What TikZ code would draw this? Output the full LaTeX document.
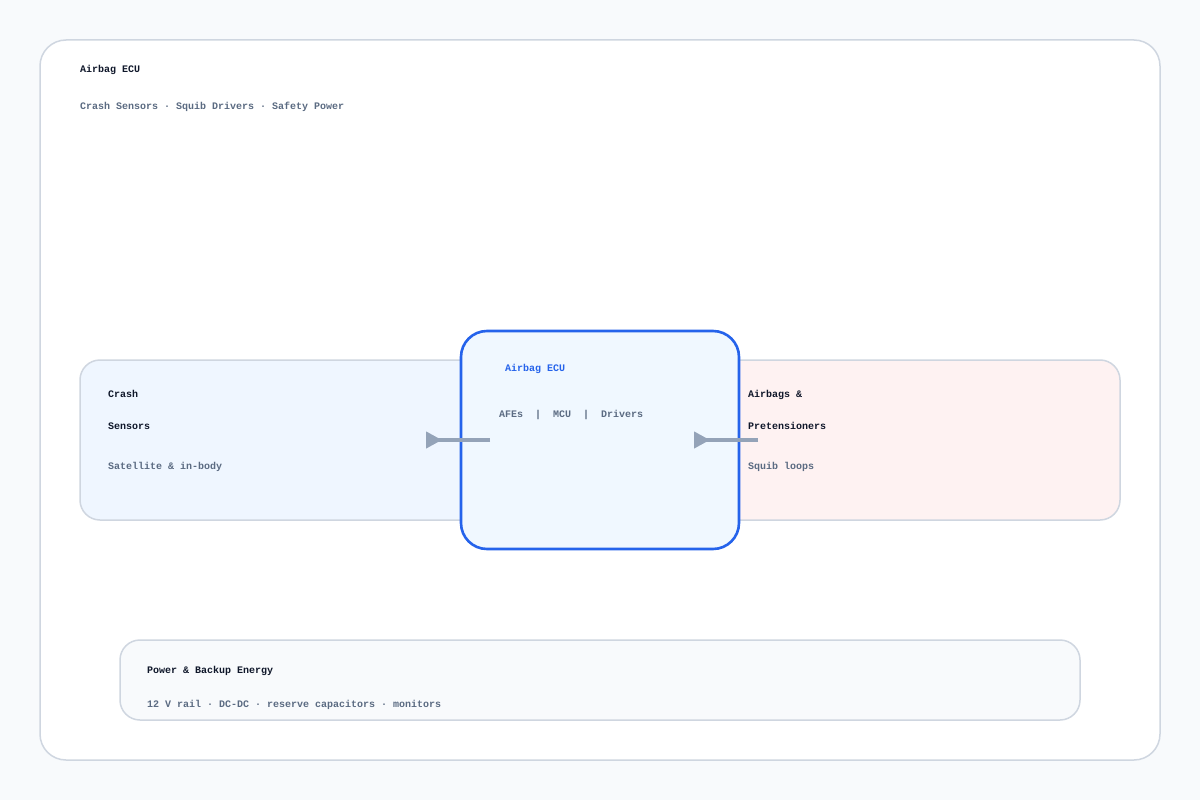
\documentclass[tikz,border=0pt]{standalone}
\usepackage{fontspec}
\setmonofont{Liberation Mono}
\usepackage{tikz}
\usetikzlibrary{arrows.meta,positioning}
\usepackage{xcolor}
\definecolor{page}{HTML}{F8FAFC}
\definecolor{rim}{HTML}{CFD6E0}
\definecolor{ink}{HTML}{0F172A}
\definecolor{slate}{HTML}{5B6B82}
\definecolor{wire}{HTML}{94A3B8}
\definecolor{ecublue}{HTML}{2563EB}
\definecolor{sensfill}{HTML}{EFF6FF}
\definecolor{bagfill}{HTML}{FEF2F2}
\definecolor{ecufill}{HTML}{F0F8FF}
\tikzset{panel/.style={draw=rim,line width=1.5pt,rounded corners=26pt,fill=white},sidebox/.style={draw=rim,line width=1.5pt,rounded corners=20pt},ecubox/.style={draw=ecublue,fill=ecufill,line width=2.6pt,rounded corners=26pt},headtext/.style={anchor=base west,inner sep=0pt,font=\ttfamily\bfseries\fontsize{10}{12}\selectfont,text=ink},subtext/.style={anchor=base west,inner sep=0pt,font=\ttfamily\bfseries\fontsize{10}{12}\selectfont,text=slate},feed/.style={draw=wire,line width=4pt,-{Triangle[reversed,length=16pt,width=16pt]}}}

\begin{document}
\begin{tikzpicture}[x=1pt,y=-1pt]
\fill[page] (0,0) rectangle (1200,800);
\useasboundingbox (0,0) rectangle (1200,800);
\draw[panel] (40,40) rectangle (1160,760);
\node[headtext] (title) at (80,73) {Airbag ECU};
\node[subtext] (subtitle) at (80,110) {Crash Sensors · Squib Drivers · Safety Power};
% side boxes, partly under the ECU
\draw[sidebox,fill=sensfill] (80,360) rectangle (480,520);
\draw[sidebox,fill=bagfill] (720,360) rectangle (1120,520);
\draw[sidebox,fill=page] (120,640) rectangle (1080,720);
\draw[ecubox] (461,331) rectangle (739,549);
\coordinate (ecuL) at (490,440);
\coordinate (sensR) at (426,440);
\coordinate (bagL) at (758,440);
\coordinate (ecuR) at (694,440);
\draw[feed] (ecuL) -- (sensR);
\draw[feed] (bagL) -- (ecuR);
\node[headtext,text=ecublue] (ecutitle) at (505,371) {Airbag ECU};
\node[subtext] (ecuparts) at (499,417) {AFEs~~|~~MCU~~|~~Drivers};
\node[headtext] (sens1) at (108,397) {Crash};
\node[headtext] (sens2) at (108,429) {Sensors};
\node[subtext] (sens3) at (108,469) {Satellite \& in-body};
\node[headtext] (bag1) at (748,397) {Airbags \&};
\node[headtext] (bag2) at (748,429) {Pretensioners};
\node[subtext] (bag3) at (748,469) {Squib loops};
\node[headtext] (pow1) at (147,673) {Power \& Backup Energy};
\node[subtext] (pow2) at (147,707) {12 V rail · DC-DC · reserve capacitors · monitors};
\end{tikzpicture}
\end{document}
